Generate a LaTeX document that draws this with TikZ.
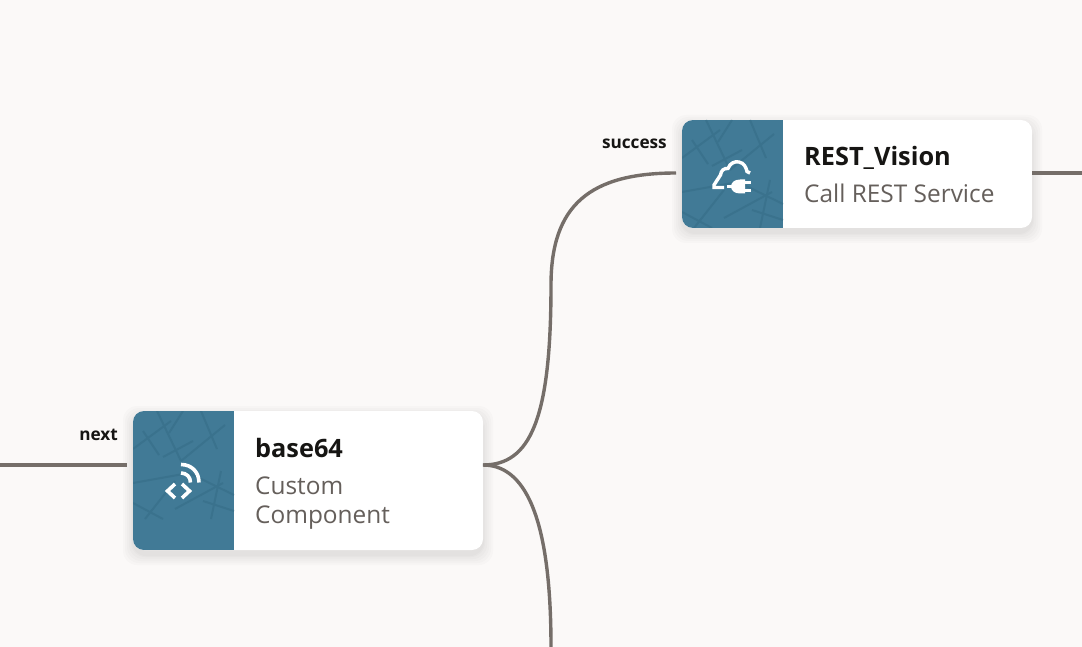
\documentclass[tikz,border=0pt]{standalone}
\usepackage{xcolor}
\usepackage{fontspec}
\setmainfont{Open Sans}
\definecolor{canvas}{HTML}{FBF9F8}
\definecolor{panelblue}{HTML}{417A96}
\definecolor{paneldark}{HTML}{3A728D}
\definecolor{wire}{HTML}{756E69}
\definecolor{inkdark}{HTML}{161513}
\definecolor{inkgray}{HTML}{655F5B}
\tikzset{
  card/.style={fill=white, rounded corners=11pt, minimum width=350pt, inner sep=0pt, outer sep=0pt},
  title/.style={font=\fontsize{25.3}{29}\selectfont\bfseries, text=inkdark, anchor=base west, inner sep=0pt},
  subtitle/.style={font=\fontsize{24.4}{29}\selectfont, text=inkgray, anchor=base west, inner sep=0pt, align=left},
  portlabel/.style={font=\fontsize{17.2}{20}\selectfont\bfseries, text=inkdark, anchor=base east, inner sep=0pt},
  connector/.style={draw=wire, line width=3.4pt},
  icon/.style={draw=white, line width=3.6pt, line cap=butt, line join=miter}
}
% soft shadow under a card: x, y, width, height
\newcommand{\cardshadow}[4]{
  \foreach \g in {10,8,6,4,2,1}
    \fill[black, opacity=0.016, rounded corners=14pt] (#1-\g,#2+5-\g) rectangle (#1+#3+\g,#2+#4+5+\g);
}
% blue panel with scratches: x, y, height
\newcommand{\cardpanel}[3]{
  \begin{scope}
    \clip[rounded corners=11pt] (#1,#2) rectangle (#1+130,#2+#3);
    \clip (#1,#2) rectangle (#1+101,#2+#3);
    \fill[panelblue] (#1,#2) rectangle (#1+101,#2+#3);
    \begin{scope}[shift={(#1,#2)}]
      \foreach \ax/\ay/\bx/\by in {0/38/38/10, 24/0/48/50, 48/50/92/14, 68/0/84/38, 0/72/56/62, 56/62/101/84, 12/108/42/70, 42/98/90/72, 78/108/88/60, 60/30/30/46, 0/92/30/108, 10/20/26/44, 70/90/101/100, 50/0/36/22}
        \draw[paneldark, line width=2pt] (\ax,\ay) -- (\bx,\by);
    \end{scope}
  \end{scope}
}
\begin{document}
\begin{tikzpicture}[x=1pt, y=-1pt]
  \fill[canvas] (0,0) rectangle (1082,647);
  \useasboundingbox (0,0) rectangle (1082,647);

  \cardshadow{133}{411}{350}{139}
  \cardshadow{682}{120}{350}{108}

  \node (base64) at (308,480.5) [card, minimum height=139pt] {};
  \node (rest) at (857,174) [card, minimum height=108pt] {};
  \cardpanel{133}{411}{139}
  \cardpanel{682}{120}{108}

  \node (base64title) at (255,457) [title] {base64};
  \node (base64sub) at (255,494) [subtitle] {Custom};
  \node (base64subb) at (255,523) [subtitle] {Component};
  \node (resttitle) at (804,166) [title] {REST\_Vision};
  \node (restsub) at (804,203) [subtitle] {Call REST Service};

  \node (nextlabel) at (118,440.5) [portlabel] {next};
  \node (successlabel) at (667,149) [portlabel] {success};

  \coordinate (leftend) at (0,465);
  \coordinate (nextin) at (127,465);
  \coordinate (restin) at (676,173);
  \coordinate (rightend) at (1082,173);
  \coordinate (downend) at (551,647);
  \coordinate (bend) at (551,285);

  \draw[connector] (leftend) -- (nextin);
  \draw[connector] (base64.east |- nextin) .. controls (530,465) and (551,420) .. (bend)
    .. controls (551,205) and (590,173) .. (restin);
  \draw[connector] (base64.east |- nextin) .. controls (530,465) and (551,530) .. (downend);
  \draw[connector] (rest.east |- restin) -- (rightend);

  % cloud and plug
  \draw[icon, line width=3.4pt] (724,187.5) -- (714,187.5) -- (714,185) -- (720.5,175)
    .. controls (721,170.5) and (724,168) .. (728,168.5)
    .. controls (730,163) and (735,161) .. (739,162)
    .. controls (744,163) and (746,167) .. (747,171.5) -- (750,173);
  \fill[white] (745,179.5) -- (740,179.5) .. controls (734,179.5) and (731,183) .. (731,186.5)
    .. controls (731,190) and (734,193.5) .. (740,193.5) -- (745,193.5) -- cycle;
  \draw[icon, line width=3.2pt] (727,186.5) -- (733,186.5);
  \draw[icon, line width=3.2pt] (743,182.5) -- (750.5,182.5) (743,190.5) -- (750.5,190.5);

  % brackets and waves
  \draw[icon] (175,484) -- (167.5,491) -- (175,498);
  \draw[icon] (182,484) -- (189.5,491) -- (182,498);
  \draw[icon] (181,464.5) .. controls (191.5,464.5) and (199,472) .. (199,482.5);
  \draw[icon] (181,473) .. controls (186.5,473) and (190.5,477) .. (190.5,482.5);
\end{tikzpicture}
\end{document}
